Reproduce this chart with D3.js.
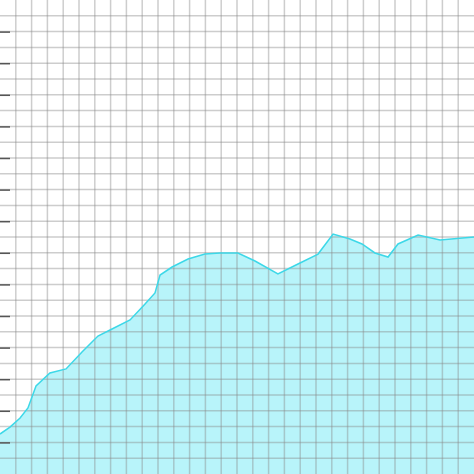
<!DOCTYPE html>
<html><head><meta charset="utf-8">
<script src="https://cdn.jsdelivr.net/npm/d3@7"></script>
<style>body{margin:0;background:#fff}</style></head>
<body><svg id="chart" width="474" height="474"></svg>
<script>
// Series (grid units, 30 x 30)
const xs = [0,0.63,1.27,1.77,2.28,3.16,4.18,5.19,6.2,7.09,8.23,9.18,9.81,10.13,10.89,11.9,12.97,13.92,15.06,16.14,17.59,18.86,20.13,21.08,22.15,22.91,23.73,24.56,25.19,26.46,27.85,30];
const ys = [2.53,2.97,3.54,4.18,5.57,6.39,6.65,7.72,8.73,9.18,9.75,10.76,11.46,12.59,13.1,13.61,13.92,13.99,13.99,13.48,12.66,13.29,13.92,15.19,14.87,14.56,13.99,13.73,14.56,15.13,14.81,15.0];
const gridTicks = d3.range(1, 30);
const axisTicks = d3.range(2, 30, 2);

const W = 474, H = 474;
const svg = d3.select('#chart');
const x = d3.scaleLinear().domain([0, 30]).range([0, W]);
const y = d3.scaleLinear().domain([0, 30]).range([H, 0]);
const data = xs.map((v, i) => ({x: v, y: ys[i]}));

// Area
svg.append('path')
    .datum(data)
    .attr('fill', '#b8f4fa')
    .attr('d', d3.area().x(d => x(d.x)).y0(H).y1(d => y(d.y)));

// Grid on top
svg.append('g').selectAll('line.v').data(gridTicks).enter().append('line')
    .attr('x1', d => x(d)).attr('x2', d => x(d)).attr('y1', 0).attr('y2', H)
    .attr('stroke', '#888').attr('stroke-opacity', 0.42).attr('stroke-width', 1.5);
svg.append('g').selectAll('line.h').data(gridTicks).enter().append('line')
    .attr('y1', d => y(d)).attr('y2', d => y(d)).attr('x1', 0).attr('x2', W)
    .attr('stroke', '#888').attr('stroke-opacity', 0.42).attr('stroke-width', 1.5);

// Outline
svg.append('path')
    .datum(data)
    .attr('fill', 'none')
    .attr('stroke', '#3dd8e8')
    .attr('stroke-width', 1.5)
    .attr('d', d3.line().x(d => x(d.x)).y(d => y(d.y)));

// Left tick marks
const yAxis = svg.append('g')
    .call(d3.axisRight(y).tickValues(axisTicks).tickSize(10).tickFormat(''));
yAxis.select('.domain').remove();
yAxis.selectAll('line').attr('stroke', '#555').attr('stroke-width', 1.5);
</script></body></html>
